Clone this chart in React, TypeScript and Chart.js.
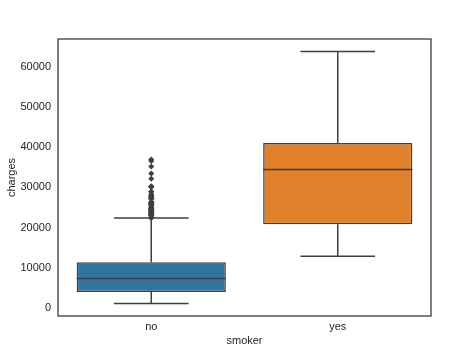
import React, { useEffect, useRef } from "react";
import { Chart, registerables } from "chart.js";

Chart.register(...registerables);

const categories = ["no", "yes"];
const whiskerLow = [1121.87, 12829.46];
const q1 = [3986.44, 20826.24];
const median = [7345.41, 34456.35];
const q3 = [11362.89, 41019.21];
const whiskerHigh = [22395.74, 63770.43];
const outliersNo = [
  36910.61, 36580.28, 35160.13, 33471.97, 32108.66, 30284.64, 30166.62, 30063.58,
  28950.47, 28923.14, 28287.9, 27941.29, 27724.29, 27533.91, 27375.9, 27346.04,
  27218.44, 27117.99, 26392.26, 26236.58, 26140.36, 26018.95, 25992.82, 25678.78,
  25656.58, 25517.11, 25333.33, 24915.05, 24873.38, 24671.66, 24667.42, 24603.05,
  24520.26, 24513.09, 24393.62, 24227.34, 24180.93, 24106.91, 24059.68, 23967.38,
  23887.66, 23807.24, 23563.02, 23401.31, 23306.55, 23288.93, 23244.79, 23082.96,
  23065.42, 23045.57, 22951.78, 22493.66, 22478.6, 22462.04, 22412.65,
];
const yTicks = [0, 10000, 20000, 30000, 40000, 50000, 60000];
const boxColors = ["#3274a1", "#e1812c"];
const yMin = -2010;
const yMax = 66902;

const LINE = "#3f3f3f";
const TEXT = "#262626";
const FONT = "'Liberation Sans', Arial, sans-serif";

const boxPlugin = {
  id: "boxParts",
  beforeDatasetsDraw(chart: any) {
    const ctx = chart.ctx;
    const xs = chart.scales.x;
    const ys = chart.scales.y;
    const meta = chart.getDatasetMeta(0);
    ctx.save();
    ctx.strokeStyle = LINE;
    ctx.lineWidth = 1.5;
    categories.forEach((_, i) => {
      const bar = meta.data[i];
      const cx = xs.getPixelForValue(i);
      const half = bar.width / 4;
      const yl = ys.getPixelForValue(whiskerLow[i]);
      const yh = ys.getPixelForValue(whiskerHigh[i]);
      const y1 = ys.getPixelForValue(q1[i]);
      const y3 = ys.getPixelForValue(q3[i]);
      ctx.beginPath();
      ctx.moveTo(cx, yl);
      ctx.lineTo(cx, y1);
      ctx.moveTo(cx, y3);
      ctx.lineTo(cx, yh);
      ctx.moveTo(cx - half, yl);
      ctx.lineTo(cx + half, yl);
      ctx.moveTo(cx - half, yh);
      ctx.lineTo(cx + half, yh);
      ctx.stroke();
    });
    ctx.restore();
  },
  afterDatasetsDraw(chart: any) {
    const ctx = chart.ctx;
    const ys = chart.scales.y;
    const meta = chart.getDatasetMeta(0);
    ctx.save();
    ctx.strokeStyle = LINE;
    ctx.lineWidth = 1.5;
    categories.forEach((_, i) => {
      const bar = meta.data[i];
      const ym = ys.getPixelForValue(median[i]);
      ctx.beginPath();
      ctx.moveTo(bar.x - bar.width / 2, ym);
      ctx.lineTo(bar.x + bar.width / 2, ym);
      ctx.stroke();
    });
    const a = chart.chartArea;
    ctx.strokeStyle = "#333333";
    ctx.lineWidth = 1.25;
    ctx.strokeRect(a.left, a.top, a.right - a.left, a.bottom - a.top);
    ctx.restore();
  },
};

export default function App() {
  const ref = useRef<HTMLCanvasElement | null>(null);
  useEffect(() => {
    if (!ref.current) return;
    const chart = new Chart(ref.current, {
      type: "bar",
      data: {
        labels: categories,
        datasets: [
          {
            type: "bar",
            data: categories.map((_, i) => [q1[i], q3[i]]),
            backgroundColor: boxColors,
            borderColor: LINE,
            borderWidth: 1.5,
            borderSkipped: false,
            barPercentage: 0.8,
            categoryPercentage: 1,
            order: 2,
          } as any,
          {
            type: "scatter",
            data: outliersNo.map((v) => ({ x: "no", y: v })),
            pointStyle: "rectRot",
            pointRadius: 3,
            backgroundColor: LINE,
            borderColor: LINE,
            borderWidth: 0,
            order: 1,
          } as any,
        ],
      },
      options: {
        animation: false,
        responsive: false,
        events: [],
        layout: { padding: { top: 39, right: 43, left: 0, bottom: 0 } },
        plugins: { legend: { display: false }, tooltip: { enabled: false } },
        scales: {
          x: {
            type: "category",
            offset: true,
            grid: { display: false, drawTicks: false },
            border: { display: false },
            ticks: { color: TEXT, font: { family: FONT, size: 11 }, padding: 4 },
            title: {
              display: true,
              text: "smoker",
              color: TEXT,
              font: { family: FONT, size: 11 },
              padding: { top: 2, bottom: 5 },
            },
            afterFit: (s: any) => {
              s.height = 37;
            },
          },
          y: {
            type: "linear",
            min: yMin,
            max: yMax,
            grid: { display: false, drawTicks: false },
            border: { display: false },
            afterBuildTicks: (s: any) => {
              s.ticks = yTicks.map((v) => ({ value: v }));
            },
            ticks: {
              color: TEXT,
              font: { family: FONT, size: 11 },
              padding: 7,
              callback: (v: any) => String(v),
            },
            title: {
              display: true,
              text: "charges",
              color: TEXT,
              font: { family: FONT, size: 11 },
              padding: { top: 5, bottom: 2 },
            },
            afterFit: (s: any) => {
              s.width = 58;
            },
          },
        },
      },
      plugins: [boxPlugin],
    });
    return () => chart.destroy();
  }, []);
  return (
    <div style={{ position: "fixed", left: 0, top: 0, width: 474, height: 353, background: "#fff" }}>
      <canvas ref={ref} width={474} height={353} style={{ display: "block" }} />
    </div>
  );
}
